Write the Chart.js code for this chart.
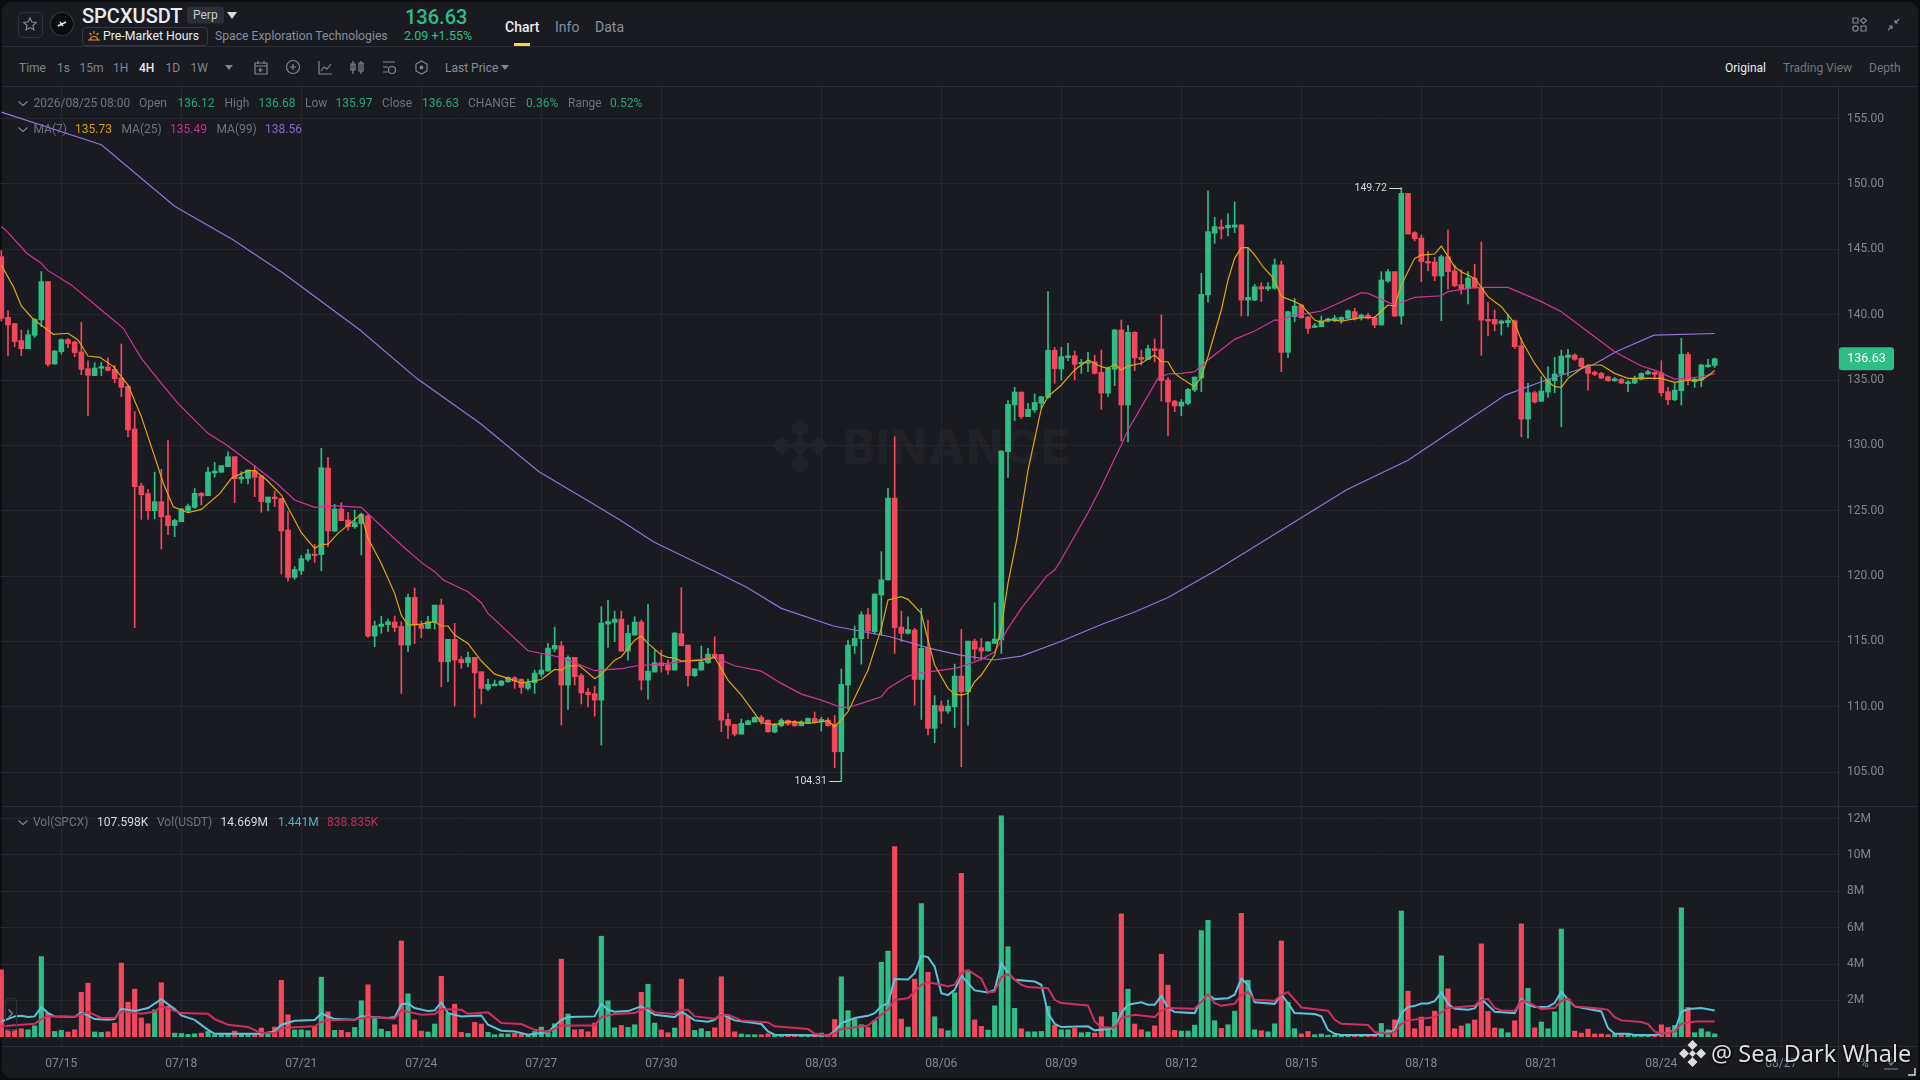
<!DOCTYPE html>
<html>
<head>
<meta charset="utf-8">
<title>SPCXUSDT</title>
<script src="https://cdn.jsdelivr.net/npm/chart.js@4/dist/chart.umd.min.js"></script>
<style>
  html, body { margin: 0; padding: 0; width: 1920px; height: 1080px; overflow: hidden; background: #0b0d11; }
  #panel { position: absolute; left: 2px; top: 2px; width: 1916px; height: 1076px; background: #191b21; border-radius: 10px; }
  canvas { position: absolute; left: 0; }
  #priceChart { top: 87px; }
  #volChart { top: 807px; }
  .txt { position: absolute; white-space: nowrap; transform: translateY(-50%); font-family: Roboto, sans-serif; line-height: 1; }
  .line { position: absolute; background: #2a2e36; }
  svg { position: absolute; overflow: visible; }
</style>
</head>
<body>
<div id="panel"></div>
<div id="backLayer"></div>
<canvas id="priceChart" width="1920" height="719"></canvas>
<canvas id="volChart" width="1920" height="273"></canvas>
<div id="topLayer"></div>
<script>
const opens = [
  144.44,139.80,139.32,138.02,137.40,138.42,139.60,142.53,136.23,137.17,138.09,137.91,137.15,135.87,135.34,135.90,136.00,135.82,135.16,134.52,
  131.26,126.89,126.31,125.00,125.69,124.62,123.86,124.16,124.98,125.26,126.33,126.15,127.89,127.94,128.37,129.14,127.43,127.48,128.07,127.66,
  125.65,126.05,125.95,123.52,119.90,120.41,121.28,121.69,121.64,128.27,123.45,125.13,124.29,123.78,124.03,124.60,115.41,116.15,116.28,116.48,
  116.15,114.72,118.37,116.25,116.00,116.48,117.78,113.45,115.16,113.63,113.37,113.78,112.68,111.36,111.61,111.66,111.92,112.22,112.09,111.41,
  111.84,112.50,112.73,114.42,114.67,111.66,113.78,112.40,111.12,111.00,110.51,116.33,116.46,116.71,114.26,115.49,116.48,112.04,112.66,113.37,
  113.22,112.81,115.59,114.72,112.38,112.81,113.37,114.03,114.00,109.03,108.65,107.91,108.63,108.83,109.19,108.98,108.07,108.55,108.96,108.88,
  108.55,108.78,109.11,108.88,108.98,108.68,106.56,111.66,114.67,115.20,117.04,115.74,118.55,119.70,125.97,116.10,115.62,115.87,112.09,114.47,
  108.35,110.08,109.67,110.00,112.35,111.15,115.03,114.52,114.27,114.85,115.11,129.52,133.09,134.08,132.20,132.71,133.22,133.67,137.28,135.84,
  136.71,136.86,136.23,136.28,136.40,135.59,134.00,135.82,138.83,133.09,138.65,136.74,136.58,137.40,137.37,135.00,133.39,133.01,133.22,134.24,
  135.16,141.51,146.23,146.71,146.64,146.69,146.87,141.12,141.12,142.14,141.97,142.02,143.81,137.12,139.85,140.74,139.82,139.03,139.08,139.51,
  139.54,139.59,139.72,140.23,139.77,139.95,139.77,139.21,142.57,143.29,139.90,149.28,146.27,145.87,144.08,144.03,142.96,144.44,143.34,142.30,
  141.99,142.80,142.09,139.64,139.64,139.34,139.39,139.54,137.63,132.01,134.03,133.37,134.08,134.95,135.46,136.73,136.91,136.66,136.02,135.59,
  135.51,135.25,134.95,135.05,134.72,134.77,135.07,135.46,135.59,135.54,134.11,133.49,134.18,136.96,134.87,135.00,136.02,136.12
];
const highs = [
  144.90,140.31,139.34,138.83,138.83,139.70,143.30,142.53,137.27,138.14,138.17,137.98,139.42,136.46,136.33,136.36,136.69,136.13,137.76,134.57,
  132.58,127.10,126.64,127.96,128.17,130.36,124.36,125.18,125.51,126.70,126.41,128.32,128.70,128.45,129.50,129.14,127.99,128.12,128.47,127.71,
  126.05,126.51,125.95,124.93,120.72,121.59,122.04,122.43,129.78,129.09,125.49,125.62,124.88,125.05,124.82,124.72,116.56,116.92,116.71,116.94,
  116.51,118.63,119.09,116.56,116.92,117.78,118.24,115.16,116.38,113.83,114.19,113.78,112.68,112.12,112.04,112.02,112.30,112.30,112.14,112.12,
  112.81,113.96,114.85,116.08,115.00,113.90,113.78,112.55,111.41,111.58,117.66,118.17,117.32,117.32,116.25,116.89,116.64,117.86,114.34,114.34,
  113.57,115.69,119.11,114.72,112.91,114.65,114.47,115.36,114.00,109.49,108.65,109.06,108.98,109.24,109.34,108.98,108.73,109.11,109.00,108.98,
  108.94,109.16,109.60,109.19,109.16,109.34,112.89,115.11,116.18,117.27,117.53,118.63,121.87,126.71,130.66,117.32,116.89,116.00,117.53,116.64,
  110.85,110.44,110.51,113.27,115.92,115.03,115.18,115.23,115.00,117.96,129.60,133.42,134.44,134.08,133.22,133.93,133.73,141.76,137.50,137.50,
  137.81,137.22,136.58,137.12,136.91,137.30,136.02,138.88,139.59,139.19,138.70,137.30,137.68,138.14,139.98,135.18,133.45,133.52,134.36,135.23,
  143.16,149.47,147.45,147.25,147.71,148.63,146.90,145.08,142.32,142.45,142.45,144.26,144.11,140.28,141.25,140.80,139.87,139.34,139.90,139.74,
  139.95,139.84,140.35,140.48,140.05,140.10,139.85,143.29,143.47,143.29,149.72,149.28,146.35,146.10,144.82,144.39,144.56,146.48,143.80,143.42,
  143.29,143.85,145.56,140.94,140.36,139.59,140.05,139.59,138.19,134.74,134.14,135.26,136.02,136.73,137.29,137.35,137.01,136.71,136.15,135.69,
  135.59,135.30,135.20,135.13,134.95,135.30,135.56,135.76,135.64,136.48,134.44,134.74,138.19,137.12,135.12,136.22,136.58,136.68
];
const lows = [
  139.50,136.84,137.56,136.87,137.40,138.27,139.09,136.07,136.20,136.99,137.48,136.79,135.41,132.28,135.34,135.34,135.70,134.80,133.73,130.67,
  116.05,124.34,124.34,124.37,122.07,123.17,123.01,124.16,124.88,125.18,125.44,126.15,127.58,127.94,128.37,125.62,127.10,127.05,126.08,124.88,
  124.98,125.31,120.16,119.62,119.75,120.11,121.15,121.05,120.41,122.25,123.40,124.24,123.52,123.65,121.61,115.31,114.60,115.62,115.74,115.74,
  111.02,114.21,114.85,115.28,115.95,115.95,111.53,111.92,110.05,112.94,113.06,109.19,110.21,111.23,111.61,111.60,111.87,111.41,111.02,111.28,
  111.02,112.30,112.73,114.21,108.60,109.80,111.66,110.21,110.00,109.29,107.07,114.54,114.98,114.26,113.57,115.49,111.28,110.59,112.66,112.66,
  112.50,112.81,114.67,111.58,112.30,112.81,113.32,113.78,108.09,107.56,107.78,107.91,108.63,108.83,108.68,108.04,108.01,108.47,108.57,108.50,
  108.53,108.73,108.73,108.14,108.52,105.34,104.31,109.80,114.09,113.27,115.23,115.57,115.49,119.70,114.09,114.98,115.55,110.13,109.03,107.84,
  107.25,108.73,109.49,108.42,105.41,108.60,113.58,113.58,114.27,114.85,114.09,127.55,131.89,132.04,132.20,132.53,132.83,133.62,134.75,135.00,
  136.48,135.00,135.51,135.64,135.46,132.76,133.73,134.57,130.33,130.26,135.72,136.15,136.58,136.38,133.39,130.72,132.58,132.27,133.09,134.11,
  134.11,140.95,145.46,145.80,146.02,146.28,139.90,139.90,141.07,141.00,141.84,141.94,135.64,136.71,139.46,139.72,138.57,139.00,139.08,139.44,
  139.46,139.34,139.67,139.59,139.59,139.67,139.00,139.21,142.47,139.85,139.28,146.17,145.64,142.52,143.34,142.60,139.54,141.96,142.14,141.58,
  140.82,142.04,136.89,138.37,138.77,138.44,139.07,137.40,130.66,130.56,133.24,133.37,133.67,134.03,131.43,135.30,136.51,135.94,134.23,135.33,
  135.10,134.90,134.89,134.72,134.11,134.72,135.00,135.43,135.05,133.77,133.11,133.42,133.09,134.62,134.44,134.49,135.97,135.97
];
const closes = [
  139.72,139.21,137.94,137.40,138.47,139.65,142.53,136.20,137.22,138.09,137.79,137.10,135.82,135.36,135.92,136.03,135.74,135.10,134.44,131.18,
  126.84,126.23,125.00,125.69,124.54,123.86,124.26,125.13,125.36,126.33,126.13,127.96,128.04,128.45,129.14,127.45,127.58,128.12,127.56,125.69,
  126.05,125.92,123.45,119.90,120.51,121.33,121.69,121.56,128.29,123.45,125.13,124.24,123.78,124.09,124.72,115.41,116.20,116.33,116.51,116.07,
  114.72,118.37,116.25,116.00,116.51,117.78,113.45,115.16,113.57,113.37,113.78,112.60,111.41,111.71,111.74,111.97,112.25,111.97,111.48,111.84,
  112.58,112.81,114.49,114.70,111.66,113.78,112.30,111.07,110.92,110.51,116.41,116.53,116.71,114.26,115.62,116.48,112.04,112.73,113.37,113.14,
  112.81,115.64,114.67,112.38,112.91,113.42,114.03,113.78,108.98,108.57,107.91,108.73,108.93,109.19,108.86,108.09,108.63,108.98,108.68,108.55,
  108.86,109.11,108.86,109.03,108.57,106.56,111.71,114.72,115.23,117.04,115.79,118.63,119.72,125.97,116.05,115.62,115.92,112.09,114.47,108.35,
  110.11,109.67,110.05,112.35,111.15,115.03,114.42,114.27,114.95,115.18,129.57,133.14,134.08,132.20,132.76,133.29,133.73,137.28,135.87,136.79,
  136.86,136.20,136.35,136.40,135.51,134.00,135.89,138.83,133.09,138.65,136.69,136.58,137.40,137.25,134.95,133.32,133.01,133.32,134.29,135.23,
  141.56,146.35,146.74,146.56,146.84,146.87,141.12,141.33,142.14,141.97,142.14,143.81,137.12,140.23,140.66,139.77,138.95,139.16,139.54,139.67,
  139.74,139.79,140.30,139.67,139.97,139.74,139.21,142.65,143.29,139.90,149.28,146.17,145.82,144.05,143.95,142.96,144.44,143.29,142.22,141.99,
  142.80,142.04,139.59,139.51,139.29,139.51,139.56,137.55,132.01,134.03,133.32,134.16,135.05,135.46,136.83,136.91,136.58,136.02,135.51,135.43,
  135.15,134.95,135.10,134.77,134.85,135.13,135.51,135.64,135.43,134.03,133.49,134.23,136.96,135.00,135.07,136.15,136.15,136.63
];
const volumes = [
  3.68,0.38,0.38,0.44,0.38,0.60,4.41,1.30,0.29,0.35,0.26,0.38,2.44,2.95,0.26,0.24,0.27,0.75,4.05,1.90,
  2.62,1.03,0.71,1.48,2.97,1.67,0.20,0.18,0.13,0.16,0.20,0.29,0.11,0.13,0.13,0.31,0.13,0.13,0.16,0.48,
  0.20,0.53,3.10,1.21,0.37,0.38,0.33,0.57,3.28,1.37,0.35,0.35,0.24,0.51,1.98,2.86,1.03,0.42,0.29,0.66,
  5.27,2.36,0.93,0.31,0.26,0.70,3.32,1.30,1.79,0.24,0.18,0.79,0.70,0.24,0.11,0.16,0.15,0.18,0.15,0.13,
  0.29,0.53,0.33,0.71,4.27,1.25,0.38,0.40,0.27,0.75,5.53,1.98,0.49,0.62,0.51,0.66,2.44,2.89,0.75,0.37,
  0.22,0.48,3.17,1.12,0.35,0.44,0.29,0.49,3.30,1.12,0.27,0.15,0.11,0.11,0.11,0.16,0.09,0.09,0.09,0.07,
  0.07,0.09,0.09,0.20,0.13,0.95,3.30,1.43,0.97,0.66,0.51,0.88,4.10,4.71,10.46,0.97,0.53,3.17,7.33,3.55,
  1.10,0.44,0.33,2.42,8.99,3.63,0.93,0.57,0.37,1.70,12.16,4.95,1.56,0.44,0.27,0.27,0.29,1.67,0.64,0.38,
  0.38,0.46,0.22,0.24,0.20,1.10,0.51,1.34,6.76,2.62,0.70,0.38,0.27,0.60,4.54,2.84,0.35,0.31,0.31,0.64,
  5.84,6.41,0.88,0.46,0.66,1.41,6.79,3.11,0.38,0.33,0.27,0.71,5.27,1.90,0.44,0.16,0.29,0.11,0.15,0.09,
  0.09,0.09,0.09,0.07,0.09,0.07,0.09,0.73,0.38,0.93,6.92,2.51,0.44,1.08,0.57,1.41,4.45,2.64,0.44,0.59,
  0.71,0.92,5.11,1.39,0.48,0.44,0.22,0.88,6.21,2.66,0.49,0.81,0.44,1.37,5.93,2.07,0.31,0.20,0.42,0.15,
  0.15,0.11,0.15,0.13,0.13,0.11,0.13,0.13,0.11,0.66,0.51,0.62,7.09,1.61,0.22,0.44,0.27,0.16
];

const ma7Idx = [0,1.8,3,4.8,6,7.8,10,11.5,13,14.8,16.8,19,21,23,24.3,25.8,26,28,30,32.8,34.5,37,38,39.8,42,45,47,48,49,50.5,52,54,55,57,59,60,61,63,65,66,67,68,70,72,74,76,78,81,83,84,85,86.8,89,90,92,93,95,96,97,99,100,101,102,105,107,109,111,113,114,116,118,121,124,125,127,130,132,133,135,136,138,139,140,142,143,144,145,146,147,149,150,151,152.3,154,156,157,159,161,163,165,166,167,168,169,171,173,174,175,176,177,179,180,181,183,184,185,186,187,188,189.3,190.6,191.5,192,194,195,197,198,199,201,204,206,208,209,210,212,213,215,216,218,219,221,223,225,227,228,230,232,233,234,235,237,238,240,242,244,247,249,251,253,255,256,257];
const ma7Val = [143.80,142.15,140.67,139.65,139.20,138.50,138.58,138.07,136.84,136.74,136.03,134.62,132.20,129.14,127.10,125.31,125.26,124.85,125.10,126.33,127.48,128.07,128.07,127.35,126.20,123.32,122.12,122.43,122.45,123.27,123.90,124.75,122.89,120.97,118.68,117.00,116.25,116.33,116.51,116.18,116.18,115.49,114.85,113.50,112.50,112.17,111.82,112.09,112.86,112.81,113.14,113.12,112.15,112.50,113.57,113.83,115.10,115.41,114.85,113.96,113.78,113.75,113.50,113.55,113.78,112.04,110.90,109.49,108.78,108.63,108.86,108.73,108.93,108.47,109.62,112.81,116.00,118.17,118.42,118.22,117.15,115.11,113.19,111.41,110.97,110.90,111.03,111.92,112.43,113.96,116.13,119.44,122.76,128.11,132.83,133.73,134.62,135.77,136.53,136.02,135.89,136.20,135.77,136.07,136.28,136.91,136.40,136.40,135.51,135.13,134.49,135.26,136.79,140.36,142.66,144.31,145.13,145.13,144.57,143.63,142.91,142.02,141.38,141.00,140.74,139.59,139.39,139.64,139.51,139.77,139.80,140.74,140.66,142.27,144.31,144.56,144.64,145.25,143.67,143.29,142.78,141.38,140.61,139.34,138.06,136.27,134.87,134.49,134.44,135.13,135.89,136.15,136.15,135.51,135.13,135.15,135.13,134.82,135.00,135.00,135.33,135.73];
const ma25Idx = [0,1,2,3.8,6,7,10.5,15,18.3,21,24,26.5,31,33.8,37.8,41.3,44,47,49.8,54,60,63,65,66.3,70,72,73,79,84,89,93.3,95.3,99,103,107,110,114,117,120,123,126,127,129,132,133,136,138,143,144,147,149,151,153,156.8,158,158.8,163,165,167,168,169,173.5,175,177,179,181,185,188,191,192,194,196,198,204,205,209,212,216,217,221,226,231,234,242,246,248,251,255,257];
const ma25Val = [146.75,146.30,145.72,144.70,143.93,143.37,142.28,140.36,138.96,136.66,134.75,133.22,130.92,130.03,128.50,127.10,125.82,125.26,125.39,125.26,122.38,121.05,120.34,119.70,118.80,117.96,117.15,114.29,113.78,112.76,112.94,113.14,113.27,113.52,113.78,113.14,112.73,111.79,110.97,110.51,109.95,109.95,110.26,110.77,111.41,112.35,112.60,112.94,113.07,113.63,114.20,116.00,117.53,120.00,120.46,121.10,124.85,126.84,129.00,130.03,131.18,135.13,135.46,135.51,135.64,136.53,138.11,138.75,139.59,139.59,139.98,140.10,140.28,141.68,141.63,140.74,141.33,141.45,141.76,142.09,142.09,141.00,140.23,137.17,136.07,135.76,135.07,135.25,135.49];
const ma99Idx = [0,15,26,34.8,42.3,53.8,62.3,71.8,80.6,87.8,92.8,97.8,106.8,111.8,117,124.8,133.3,139.3,143.8,148.8,153,158.8,165,170,175,182.3,201.8,211,218.5,225.6,231,238.7,242.2,247.9,257];
const ma99Val = [155.50,153.00,148.30,145.72,143.17,138.83,135.13,131.69,128.00,125.82,124.29,122.63,120.41,119.14,117.53,116.18,115.36,114.47,113.96,113.58,113.88,114.98,116.30,117.25,118.36,120.46,126.60,128.86,131.43,133.85,134.87,136.15,137.17,138.44,138.56];

const volBlueIdx = [0,2,3,4,5,6,7,8,11,12,14,16,17,18,20,22,24,26,27,29,31,32,39,41,42,44,47,48,50,53,54,58,59,60,61,62,64,65,66,67,69,72,73,75,77,79,82,84,85,89,90,91,92,94,96,98,101,102,104,106,107,108,110,114,115,116,124,125,126,128,130,131,132,133,134,136,137,138,139,140,141,142,143,144,146,148,149,150,151,152,155,156,157,158,159,163,164,167,168,169,171,172,173,174,175,176,179,180,181,182,184,185,186,187,188,191,192,193,194,197,198,199,200,201,206,209,210,211,212,213,214,215,216,217,218,220,221,222,224,227,228,229,230,232,233,234,235,236,240,241,242,244,245,248,249,251,252,253,255,257];
const volBlueVal = [0.84,1.12,1.15,1.08,1.12,1.63,1.30,1.12,1.08,1.34,0.97,0.93,0.97,1.54,1.41,1.58,2.07,1.52,1.17,0.93,0.38,0.16,0.16,0.29,0.66,0.88,0.92,1.28,0.97,0.93,1.12,1.03,1.08,1.79,1.83,1.58,1.41,1.45,1.89,1.30,1.12,1.17,0.66,0.33,0.29,0.11,0.26,0.93,1.08,1.12,1.81,1.48,1.37,1.41,1.67,1.21,1.08,1.39,0.90,0.82,0.93,1.26,0.90,0.70,0.29,0.11,0.07,0.29,0.75,1.03,1.15,1.30,1.67,1.85,3.17,3.15,3.50,4.45,4.38,3.86,2.40,2.29,2.58,3.35,2.55,2.44,2.58,4.05,3.50,3.13,3.04,2.86,1.30,0.71,0.53,0.57,0.35,0.46,1.30,1.76,1.89,1.76,1.76,2.25,1.58,1.36,1.30,2.03,2.31,2.07,2.12,2.31,3.19,2.86,1.90,1.81,2.31,1.85,1.30,1.25,1.12,0.38,0.16,0.09,0.09,0.35,1.30,1.63,1.70,1.83,1.83,1.96,2.45,1.81,1.54,1.48,1.56,2.09,1.37,1.30,2.09,1.76,1.63,1.65,1.85,2.49,2.03,1.67,1.39,0.48,0.16,0.16,0.09,0.09,0.16,0.33,1.36,1.52,1.58,1.44];
const volRedIdx = [0,5,6,7,11,13,15,17,18,21,23,24,27,31,32,34,37,39,41,42,47,48,49,53,55,59,60,63,65,66,69,70,73,75,78,80,82,84,89,90,92,95,96,97,98,101,102,103,104,107,108,109,111,115,116,121,122,124,125,126,130,132,133,134,136,137,138,139,141,142,143,144,145,147,148,149,150,151,153,154,157,158,159,163,164,165,167,168,170,173,174,175,179,181,182,183,185,186,187,188,191,192,193,195,199,200,201,205,206,208,209,210,211,214,215,217,221,222,223,224,225,227,228,229,231,233,234,235,236,240,241,242,243,246,247,248,249,251,252,254,257];
const volRedVal = [0.57,0.71,0.97,1.12,1.10,1.37,1.03,1.03,1.39,1.26,1.39,1.67,1.30,1.26,0.97,0.66,0.53,0.20,0.20,0.48,0.57,0.81,0.90,0.93,1.08,0.99,1.45,1.21,1.25,1.52,1.48,1.26,1.34,0.75,0.70,0.38,0.26,0.62,0.62,1.08,1.25,1.30,1.48,1.58,1.34,1.25,1.48,1.48,1.12,0.99,1.21,1.21,0.90,0.79,0.57,0.42,0.16,0.07,0.20,0.42,0.62,1.21,1.48,2.03,2.12,2.49,2.86,3.00,2.86,2.77,2.86,3.50,3.68,3.19,2.44,2.49,3.28,3.44,2.86,2.73,2.67,2.03,1.85,1.72,0.84,0.53,0.49,1.03,1.21,1.08,1.45,1.58,1.54,2.34,1.85,1.70,1.81,2.31,2.45,2.03,1.98,2.31,2.45,1.61,1.43,0.93,0.71,0.64,0.26,0.16,0.26,0.71,0.90,1.03,1.08,1.58,1.70,2.03,2.09,1.58,1.45,1.43,1.98,1.90,1.52,1.58,1.98,2.09,1.67,1.54,1.48,1.08,0.90,0.81,0.70,0.29,0.16,0.29,0.71,0.84,0.84];

const dateTicks = [9,27,45,63,81,99,123,141,159,177,195,213,231,249,267];
const dateLabels = ['07/15','07/18','07/21','07/24','07/27','07/30','08/03','08/06','08/09','08/12','08/15','08/18','08/21','08/24','08/27'];
const priceTicks = [105,110,115,120,125,130,135,140,145,150,155];
const volTicks = [2,4,6,8,10,12];

const GREEN = '#2ebd85';
const RED = '#f6465d';
const GRID = '#24272e';
const AXIS_TEXT = '#7f8691';

const isUp = closes.map((c, i) => c >= opens[i]);
const candleColors = isUp.map(up => up ? GREEN : RED);
const points = (xs, ys) => xs.map((x, i) => ({x: x, y: ys[i]}));

function maLine(xs, ys, color, width) {
    return {
        type: 'line', data: points(xs, ys), borderColor: color, borderWidth: width,
        pointRadius: 0, tension: 0, order: 1
    };
}

function xAxis(showLabels, height) {
    return {
        type: 'linear', min: -0.2, max: 275.5, offset: false,
        afterBuildTicks: ax => { ax.ticks = dateTicks.map(v => ({value: v})); },
        afterFit: ax => { ax.height = height; ax.paddingLeft = 0; ax.paddingRight = 0; },
        border: {display: false},
        grid: {color: GRID, drawTicks: false, offset: false},
        ticks: {
            display: showLabels, autoSkip: false, maxRotation: 0, padding: 11,
            color: AXIS_TEXT, font: {family: 'Roboto', size: 12},
            callback: v => dateLabels[dateTicks.indexOf(v)]
        }
    };
}

function yAxis(min, max, ticks, format) {
    return {
        position: 'right', min: min, max: max,
        afterBuildTicks: ax => { ax.ticks = ticks.map(v => ({value: v})); },
        afterFit: ax => { ax.width = 82; ax.paddingTop = 0; ax.paddingBottom = 0; },
        border: {display: false},
        grid: {color: GRID, drawTicks: false},
        ticks: {padding: 9, color: AXIS_TEXT, font: {family: 'Roboto', size: 12}, callback: format}
    };
}

const priceMarks = {
    id: 'priceMarks',
    afterDraw(chart) {
        const {ctx, scales} = chart;
        const hi = Math.max(...highs), lo = Math.min(...lows);
        ctx.save();
        ctx.font = '10.5px Roboto';
        ctx.textBaseline = 'middle';
        ctx.textAlign = 'right';
        [[highs.indexOf(hi), hi], [lows.indexOf(lo), lo]].forEach(([i, v]) => {
            const x = scales.x.getPixelForValue(i), y = Math.round(scales.y.getPixelForValue(v)) + 0.5;
            ctx.strokeStyle = '#d5d8dc';
            ctx.lineWidth = 1;
            ctx.beginPath();
            ctx.moveTo(x, y);
            ctx.lineTo(x - 12, y);
            ctx.stroke();
            ctx.fillStyle = '#d5d8dc';
            ctx.fillText(v.toFixed(2), x - 14.5, y);
        });
        const last = closes[closes.length - 1];
        const py = scales.y.getPixelForValue(last);
        ctx.fillStyle = GREEN;
        ctx.beginPath();
        ctx.roundRect(1839, py - 11.5, 55, 23, 3);
        ctx.fill();
        ctx.fillStyle = '#fff';
        ctx.font = '12.5px Roboto';
        ctx.textAlign = 'center';
        ctx.fillText(last.toFixed(2), 1866.5, py + 0.5);
        ctx.restore();
    }
};

new Chart(document.getElementById('priceChart').getContext('2d'), {
    type: 'bar',
    data: {
        datasets: [
            maLine(ma7Idx, ma7Val, '#e0a80a', 1.2),
            maLine(ma25Idx, ma25Val, '#d2349b', 1.2),
            maLine(ma99Idx, ma99Val, '#9670de', 1.2),
            {data: opens.map((o, i) => ({x: i, y: [o, closes[i]]})), backgroundColor: candleColors, barThickness: 5, grouped: false, order: 2},
            {data: lows.map((l, i) => ({x: i, y: [l, highs[i]]})), backgroundColor: candleColors, barThickness: 1, grouped: false, order: 3}
        ]
    },
    options: {
        responsive: false, animation: false, events: [],
        layout: {padding: 0},
        plugins: {legend: {display: false}, tooltip: {enabled: false}},
        scales: {
            x: xAxis(false, 0),
            y: yAxis(102.41, 157.42, priceTicks, v => v.toFixed(2))
        }
    },
    plugins: [priceMarks]
});

new Chart(document.getElementById('volChart').getContext('2d'), {
    type: 'bar',
    data: {
        datasets: [
            maLine(volRedIdx, volRedVal, '#cf2f5e', 2),
            maLine(volBlueIdx, volBlueVal, '#5cc3db', 2),
            {data: volumes.map((v, i) => ({x: i, y: v})), backgroundColor: candleColors, barThickness: 4.5, grouped: false, order: 2}
        ]
    },
    options: {
        responsive: false, animation: false, events: [],
        layout: {padding: 0},
        plugins: {legend: {display: false}, tooltip: {enabled: false}},
        scales: {
            x: xAxis(true, 34),
            y: yAxis(-0.51, 12.64, volTicks, v => v + 'M')
        }
    }
});

// everything around the plot: header, toolbar, legend rows
const topLayer = document.getElementById('topLayer');
const backLayer = document.getElementById('backLayer');

function label(text, x, y, color, size, weight, parent) {
    const d = document.createElement('div');
    d.className = 'txt';
    d.textContent = text;
    d.style.cssText = `left:${x}px;top:${y}px;color:${color};font-size:${size || 12}px;font-weight:${weight || 400}`;
    (parent || topLayer).appendChild(d);
    return d;
}

function rule(x, y, w, h, color) {
    const d = document.createElement('div');
    d.className = 'line';
    d.style.cssText = `left:${x}px;top:${y}px;width:${w}px;height:${h}px;` + (color ? `background:${color}` : '');
    topLayer.appendChild(d);
    return d;
}

function icon(x, y, w, h, body, parent) {
    (parent || topLayer).insertAdjacentHTML('beforeend',
        `<svg style="left:${x}px;top:${y}px" width="${w}" height="${h}" viewBox="0 0 ${w} ${h}" fill="none" stroke="#7f8691" stroke-width="1.2">${body}</svg>`);
}

rule(2, 46, 1916, 1);
rule(2, 86, 1916, 1);
rule(2, 806, 1916, 1);
rule(2, 1046, 1916, 1);
rule(1838, 87, 1, 991);

// star and logo buttons
const box = rule(18, 12, 23, 24, 'transparent');
box.style.border = '1px solid #2f343c';
box.style.borderRadius = '5px';
icon(23, 17, 14, 14, '<path d="M7 1l1.9 4 4.3.5-3.2 3 .9 4.3L7 10.6l-3.9 2.2.9-4.3-3.2-3 4.3-.5z"/>');
icon(50, 12, 24, 24, '<circle cx="12" cy="12" r="11.5" fill="#0a0b0d" stroke="#33363c"/><path d="M8 14l8-4M10 10l3 4" stroke="#e8e8e8" stroke-width="1.4"/>');

label('SPCXUSDT', 82, 16, '#eaecef', 20, 500);
const perp = label('Perp', 187, 15, '#c6cbd2', 12);
perp.style.cssText += ';background:#2b3038;padding:2px 6px;border-radius:3px;line-height:13px';
icon(227, 12, 10, 7, '<path d="M0 0h10L5 7z" fill="#d5d8dc" stroke="none"/>');
const pill = rule(82, 27, 124, 17, 'transparent');
pill.style.border = '1px solid #333943';
pill.style.borderRadius = '4px';
icon(88, 30, 12, 11, '<path d="M0 10h12M2.5 10a3.5 3.5 0 017 0M6 1v3M1.5 3l2 2M10.5 3l-2 2" stroke="#e8902a"/>');
label('Pre-Market Hours', 103, 36, '#eaecef', 12.3);
label('Space Exploration Technologies', 215, 36, '#848e9c', 12.2);
label('136.63', 405, 17, GREEN, 20, 500);
label('2.09 +1.55%', 404, 36, GREEN, 12.5);
label('Chart', 505, 27, '#eaecef', 14, 500);
label('Info', 555, 27, '#848e9c', 14);
label('Data', 595, 27, '#848e9c', 14);
rule(514, 43, 16, 3, '#fcd535');

[['Time', 19], ['1s', 57], ['15m', 79.5], ['1H', 113], ['1D', 165.5], ['1W', 190.5]].forEach(([t, x]) => label(t, x, 67.5, '#7f8691', 12));
label('4H', 139, 67.5, '#eaecef', 12, 500);
label('Last Price', 445, 67.5, '#848e9c', 12);
icon(225, 65, 8, 5, '<path d="M0 0h8L4 5z" fill="#7f8691" stroke="none"/>');
icon(501, 65, 8, 5, '<path d="M0 0h8L4 5z" fill="#7f8691" stroke="none"/>');
icon(254, 60, 14, 15, '<path d="M1 3h12v11H1zM1 6h12M4 1v3M10 1v3M9 10H5m2-2l-2 2 2 2"/>');
icon(286, 60, 14, 14, '<circle cx="7" cy="7" r="6.5"/><path d="M7 4v6M4 7h6"/>');
icon(318, 60, 14, 15, '<path d="M1 1v13h13M3 11l3-4 3 2 4-5"/>');
icon(350, 60, 14, 15, '<path d="M1 4h4v6H1zM3 1v13M9 3h4v8H9zM11 1v13"/>');
icon(382, 60, 14, 15, '<path d="M1 2h12M1 7h5M1 12h5"/><circle cx="10" cy="10" r="3.5"/>');
icon(415, 60, 13, 15, '<path d="M6.5 1l5.5 3v7l-5.5 3L1 11V4z"/><circle cx="6.5" cy="7.5" r="1.3" fill="#7f8691"/>');

icon(1852, 17, 15, 15, '<path d="M1 1h5v5H1zM9 9h5v5H9zM11.5 1l3 2.5-3 3-3-3z"/><circle cx="3.5" cy="11.5" r="2.7"/>');
icon(1887, 18, 13, 13, '<path d="M1 12l4-4m0 0H2m3 0v3M12 1L8 5m0 0h3M8 5V2"/>');
label('Original', 1725, 67.5, '#eaecef', 12);
label('Trading View', 1783, 67.5, '#6f7680', 12);
label('Depth', 1869, 67.5, '#6f7680', 12);

// legend rows
const DIM = '#6c737e';
const chevron = y => icon(18, y - 2, 10, 5, '<path d="M0.5 0.5L5 4.5l4.5-4"/>');
chevron(103);
chevron(129);
chevron(822);
[['2026/08/25 08:00', 33.5], ['Open', 139], ['High', 224.5], ['Low', 305], ['Close', 382], ['CHANGE', 468], ['Range', 568]]
    .forEach(([t, x]) => label(t, x, 103, DIM, 12));
[['136.12', 177.5], ['136.68', 258.5], ['135.97', 335.5], ['136.63', 422], ['0.36%', 526], ['0.52%', 610]]
    .forEach(([t, x]) => label(t, x, 103, '#24a878', 12));
label('MA(7)', 33.5, 129, DIM, 12);
label('135.73', 75, 129, '#d49c0c', 12);
label('MA(25)', 121.5, 129, DIM, 12);
label('135.49', 170, 129, '#c72f90', 12);
label('MA(99)', 216.5, 129, DIM, 12);
label('138.56', 265, 129, '#8c63d2', 12);
label('Vol(SPCX)', 33, 822, DIM, 12);
label('107.598K', 97, 822, '#d5d8dc', 12);
label('Vol(USDT)', 157, 822, DIM, 12);
label('14.669M', 220.5, 822, '#d5d8dc', 12);
label('1.441M', 278, 822, '#4fb2c9', 12);
label('838.835K', 327, 822, '#bf2c55', 12);

// pane handle and bottom right controls
const handle = rule(5, 998, 10, 31, 'transparent');
handle.style.border = '1px solid #30343c';
handle.style.borderRadius = '4px';
icon(8, 1009, 5, 9, '<path d="M0.5 0.5l4 4-4 4"/>');
label('%', 1860, 1063, '#7f8691', 12);
icon(1884, 1056, 14, 14, '<path d="M7 0v8M3 5l4 4 4-4M0 13h14"/>');
icon(1908, 1068, 8, 8, '<path d="M7 0v7H0" stroke="#d5d8dc" stroke-width="1.5"/>');

// watermarks
const wm = label('BINANCE', 843, 446.5, 'rgba(255,255,255,0.04)', 48, 800, backLayer);
wm.style.fontFamily = 'Inter, sans-serif';
wm.style.letterSpacing = '1px';
icon(772, 416, 56, 60, '<path d="M28 2l10 10-10 10-10-10zM10 20l10 10-10 10L0 30zM46 20l10 10-10 10-10-10zM28 20l10 10-10 10-10-10zM28 38l10 10-10 10-10-10z" fill="rgba(255,255,255,0.04)" stroke="none"/>', backLayer);

const mark = label('@ Sea Dark Whale', 1711, 1054, '#dcdcdc', 23.5);
mark.style.fontFamily = '"Noto Sans", sans-serif';
mark.style.textShadow = '0 0 3px #000, 1px 1px 2px #000';
icon(1679, 1040, 27, 27, '<path d="M13.5 0l5 5-5 5-5-5zM5 8.5l5 5-5 5-5-5zM22 8.5l5 5-5 5-5-5zM13.5 10l3.5 3.5-3.5 3.5-3.5-3.5zM13.5 17l5 5-5 5-5-5z" fill="#dcdcdc" stroke="none"/>');
</script>
</body>
</html>
